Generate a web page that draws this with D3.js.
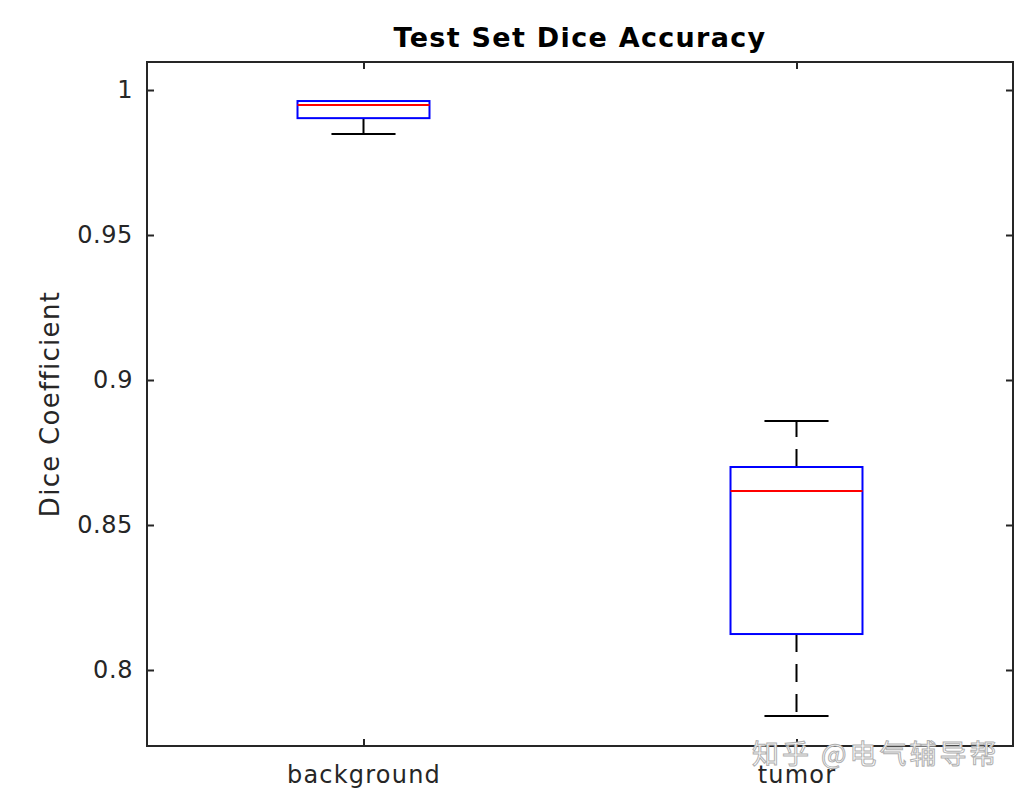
<!DOCTYPE html>
<html>
<head>
<meta charset="utf-8">
<script src="https://cdn.jsdelivr.net/npm/d3@7"></script>
<style>
  html, body { margin: 0; padding: 0; background: #fff; }
  svg { display: block; }
</style>
</head>
<body>
<svg id="chart" width="1031" height="797"></svg>
<script>
// ---- data ----
const categories = ["background", "tumor"];
const whiskerLow = [0.9848, 0.7841];
const q1 = [0.9903, 0.8124];
const median = [0.9948, 0.8617];
const q3 = [0.9962, 0.8700];
const whiskerHigh = [0.9962, 0.8859];
const yTicks = [0.8, 0.85, 0.9, 0.95, 1];
const yTickLabels = ["0.8", "0.85", "0.9", "0.95", "1"];
const chartTitle = "Test Set Dice Accuracy";
const yLabel = "Dice Coefficient";
const watermark = "知乎 @电气辅导帮";

// ---- layout ----
const svg = d3.select("#chart");
const L = 147, R = 1013, T = 62, B = 746;
const x = d3.scaleLinear().domain([0.5, 2.5]).range([L, R]);
const y = d3.scaleLinear().domain([0.77379, 1.00966]).range([B, T]);
const boxHalf = 0.1524, capHalf = 0.074;
const axisColor = "#262626";
const font = "'DejaVu Sans', sans-serif";

const data = categories.map((c, i) => ({
  c, pos: i + 1, lo: whiskerLow[i], q1: q1[i], med: median[i], q3: q3[i], hi: whiskerHigh[i]
}));

const g = svg.append("g");

data.forEach(d => {
  if (d.hi > d.q3) {
    g.append("line").attr("x1", x(d.pos)).attr("x2", x(d.pos))
      .attr("y1", y(d.q3)).attr("y2", y(d.hi))
      .attr("stroke", "#000").attr("stroke-width", 2).attr("stroke-dasharray", "18,12");
    g.append("line").attr("x1", x(d.pos - capHalf)).attr("x2", x(d.pos + capHalf))
      .attr("y1", y(d.hi)).attr("y2", y(d.hi))
      .attr("stroke", "#000").attr("stroke-width", 2);
  }
  g.append("line").attr("x1", x(d.pos)).attr("x2", x(d.pos))
    .attr("y1", y(d.q1)).attr("y2", y(d.lo))
    .attr("stroke", "#000").attr("stroke-width", 2).attr("stroke-dasharray", "18,12");
  g.append("line").attr("x1", x(d.pos - capHalf)).attr("x2", x(d.pos + capHalf))
    .attr("y1", y(d.lo)).attr("y2", y(d.lo))
    .attr("stroke", "#000").attr("stroke-width", 2);
  g.append("rect").attr("x", x(d.pos - boxHalf)).attr("y", y(d.q3))
    .attr("width", x(d.pos + boxHalf) - x(d.pos - boxHalf))
    .attr("height", y(d.q1) - y(d.q3))
    .attr("fill", "none").attr("stroke", "#0000ff").attr("stroke-width", 2);
  g.append("line").attr("x1", x(d.pos - boxHalf)).attr("x2", x(d.pos + boxHalf))
    .attr("y1", y(d.med)).attr("y2", y(d.med))
    .attr("stroke", "#ff0000").attr("stroke-width", 2);
});

const tickLen = 7;
const axLeft = svg.append("g").attr("transform", `translate(${L},0)`)
  .call(d3.axisLeft(y).tickValues(yTicks).tickFormat((d, i) => yTickLabels[i]).tickSizeInner(-tickLen).tickSizeOuter(0).tickPadding(14));
const axRight = svg.append("g").attr("transform", `translate(${R},0)`)
  .call(d3.axisRight(y).tickValues(yTicks).tickFormat("").tickSizeInner(-tickLen).tickSizeOuter(0));
const axBottom = svg.append("g").attr("transform", `translate(0,${B})`)
  .call(d3.axisBottom(x).tickValues(data.map(d => d.pos)).tickFormat((d, i) => categories[i]).tickSizeInner(-tickLen).tickSizeOuter(0).tickPadding(20));
const axTop = svg.append("g").attr("transform", `translate(0,${T})`)
  .call(d3.axisTop(x).tickValues(data.map(d => d.pos)).tickFormat("").tickSizeInner(-tickLen).tickSizeOuter(0));

[axLeft, axRight, axBottom, axTop].forEach(a => {
  a.select(".domain").remove();
  a.selectAll(".tick line").attr("stroke", axisColor).attr("stroke-width", 2);
});
axLeft.selectAll(".tick text").attr("font-family", font).attr("font-size", 24)
  .attr("letter-spacing", 0.6).attr("fill", "#262626");
axBottom.selectAll(".tick text").attr("font-family", font).attr("font-size", 24)
  .attr("letter-spacing", 1.2).attr("fill", "#262626").attr("dy", "0.71em");

svg.append("rect").attr("x", L).attr("y", T).attr("width", R - L).attr("height", B - T)
  .attr("fill", "none").attr("stroke", axisColor).attr("stroke-width", 2);

svg.append("text").attr("x", (L + R) / 2).attr("y", 47).attr("text-anchor", "middle")
  .attr("font-family", font).attr("font-weight", "bold").attr("font-size", 27)
  .attr("letter-spacing", 1.3).attr("fill", "#000").text(chartTitle);

svg.append("text").attr("transform", `translate(59,${(T + B) / 2}) rotate(-90)`)
  .attr("text-anchor", "middle").attr("font-family", font).attr("font-size", 26)
  .attr("letter-spacing", 1.3).attr("fill", "#262626").text(yLabel);

svg.append("text").attr("x", 752).attr("y", 764)
  .attr("font-family", "'Noto Sans CJK SC', sans-serif").attr("font-size", 27)
  .attr("letter-spacing", 3).attr("fill", "#fff").attr("stroke", "#b0b0b0")
  .attr("stroke-width", 1).attr("paint-order", "fill").text(watermark);
</script>
</body>
</html>
